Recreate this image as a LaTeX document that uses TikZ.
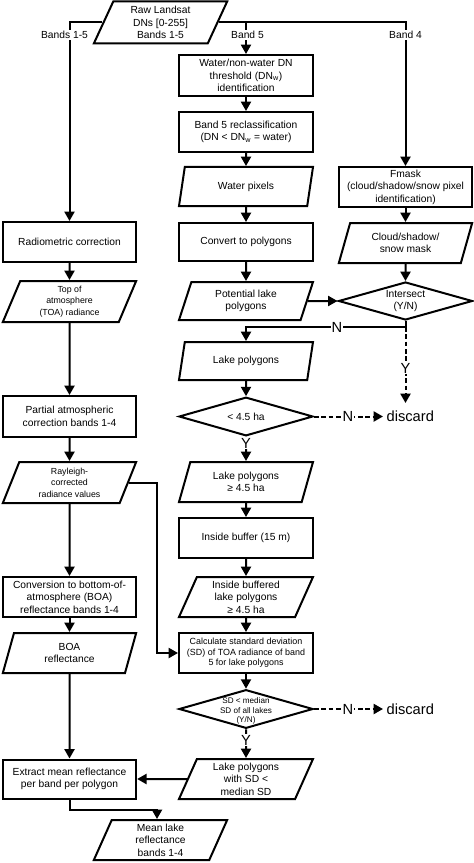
\documentclass[tikz,border=0pt]{standalone}
\usepackage{fontspec}
\setmainfont{Liberation Sans}
\usetikzlibrary{shapes.geometric,arrows.meta,calc}
\newcommand{\fmain}{\fontsize{7.7pt}{9.3pt}\selectfont}
\newcommand{\fsmall}{\fontsize{6.6pt}{8.7pt}\selectfont}
\newcommand{\fsd}{\fontsize{6.7pt}{7.9pt}\selectfont}
\newcommand{\ftiny}{\fontsize{6.1pt}{7.2pt}\selectfont}
\newcommand{\fbig}{\fontsize{11pt}{12pt}\selectfont}
\begin{document}
\begin{tikzpicture}[x=0.75pt,y=-0.75pt,
  line width=1.5pt,
  arr/.style={-{Triangle[length=7pt,width=7.5pt]}},
  rbox/.style={draw, rectangle, minimum width=100pt, minimum height=30pt, inner sep=1pt, align=center, font=\fmain},
  pbox/.style={draw, trapezium, trapezium left angle=62, trapezium right angle=118, trapezium stretches body,
    minimum width=100pt, minimum height=30pt, inner sep=0.5pt, align=center, font=\fmain},
  dbox/.style={draw, diamond, minimum width=100.5pt, minimum height=29pt, inner sep=0pt},
  lbl/.style={fill=white, inner sep=1pt, font=\fmain},
  big/.style={fill=white, inner sep=0.5pt, font=\fbig},
  dsh/.style={dash pattern=on 3.5pt off 2pt}
]
\useasboundingbox (0,0) rectangle (474,863);

% top
\node[pbox, minimum width=100pt, minimum height=31.5pt, trapezium left angle=60, trapezium right angle=120] (raw) at (160.5,22.5) {Raw Landsat\\DNs [0-255]\\Bands 1-5};

% middle column
\node[rbox, minimum width=100.5pt, minimum height=30.75pt] (thr) at (246,75.5) {Water/non-water DN\\threshold (DN\textsubscript{w})\\identification};
\node[rbox, minimum width=100.5pt] (rec) at (246,132) {Band 5 reclassification\\(DN < DN\textsubscript{w} = water)};
\node[pbox, minimum width=100.5pt, minimum height=29.25pt] (wat) at (246,186.5) {Water pixels};
\node[rbox, minimum width=100.5pt, minimum height=28.5pt] (conv) at (246,242) {Convert to polygons};
\node[pbox, minimum width=100.5pt, minimum height=28.5pt] (pot) at (246,301) {Potential lake\\polygons};
\node[pbox, minimum width=100.5pt, minimum height=28.5pt] (lake) at (246,361) {Lake polygons};
\node[dbox] (d45) at (246,416.5) {};
\node[font=\fmain] (t45) at (d45) {< 4.5 ha};
\node[pbox, minimum width=100.5pt] (lk45) at (246,482) {Lake polygons\\≥ 4.5 ha};
\node[rbox, minimum width=100.5pt] (buf) at (246,538) {Inside buffer (15 m)};
\node[pbox, minimum width=100.5pt] (ibuf) at (246,597) {Inside buffered\\lake polygons\\≥ 4.5 ha};
\node[rbox, minimum width=100.5pt, font=\fsd] (sd) at (246,653) {Calculate standard deviation\\(SD) of TOA radiance of band\\5 for lake polygons};
\node[dbox] (dsd) at (246,709) {};
\node[font=\ftiny, align=center] (tsd) at (246,711) {SD < median\\SD of all lakes\\(Y/N)};
\node[pbox, minimum width=100.5pt] (lsd) at (246,779) {Lake polygons\\with SD <\\median SD};

% left column
\node[rbox, minimum width=100pt] (rad) at (69.5,242) {Radiometric correction};
\node[pbox, minimum height=30.75pt, font=\fsmall] (toa) at (69.5,301.5) {Top of\\atmosphere\\(TOA) radiance};
\node[rbox, minimum height=30.75pt] (pac) at (69.5,416.5) {Partial atmospheric\\correction bands 1-4};
\node[pbox, minimum height=30.75pt, font=\fsmall] (ray) at (69.5,482.5) {Rayleigh-\\corrected\\radiance values};
\node[rbox] (boa) at (69.5,597) {Conversion to bottom-of-\\atmosphere (BOA)\\reflectance bands 1-4};
\node[pbox] (boar) at (69.5,653) {BOA\\reflectance};
\node[rbox, minimum height=29.25pt] (ext) at (69.5,779) {Extract mean reflectance\\per band per polygon};
\node[pbox] (mean) at (160.5,840) {Mean lake\\reflectance\\bands 1-4};

% right column
\node[rbox] (fm) at (405.5,187) {Fmask\\(cloud/shadow/snow pixel\\identification)};
\node[pbox] (csm) at (405.5,243) {Cloud/shadow/\\snow mask};
\node[dbox, minimum height=28.5pt] (int) at (405.5,301) {};
\node[font=\fmain, align=center] (tint) at (int) {Intersect\\(Y/N)};
\node[font=\fbig, anchor=west, inner sep=2pt] (dis1) at (383,416.5) {discard};
\node[font=\fbig, anchor=west, inner sep=2pt] (dis2) at (383,709) {discard};

\coordinate (nb) at (405.5,327);
\coordinate (yend) at (405.5,403);
\coordinate (rb) at (157,0);
\coordinate (mb) at (157,810);

% connectors from the top
\draw[arr] (raw.west) -| (rad.north);
\draw[arr] (raw.east) -| (fm.north);
\draw[arr] (thr.north |- raw.east) -- (thr.north);
\node[lbl] (lb15) at (64.5,35) {Bands 1-5};
\node[lbl] (lb5) at (247.5,35) {Band 5};
\node[lbl] (lb4) at (405.5,35) {Band 4};

% left column
\foreach \a/\b in {rad/toa,toa/pac,pac/ray,ray/boa,boa/boar,boar/ext}
  \draw[arr] (\a) -- (\b);
\draw[arr] (ray.east) -- (ray.east -| rb) |- (sd.west);
\draw[arr] (ext.south) |- (mb) -- (mb |- mean.north);

% middle column
\foreach \a/\b in {thr/rec,rec/wat,wat/conv,conv/pot,lake/d45,d45/lk45,lk45/buf,buf/ibuf,ibuf/sd,sd/dsd,dsd/lsd}
  \draw[arr] (\a) -- (\b);
\draw[arr] (lsd) -- (ext);
\node[big] (y1) at (246,443) {Y};
\node[big] (y2) at (246,740) {Y};

% right column
\draw[arr] (fm) -- (csm);
\draw[arr] (csm) -- (int);
\draw[arr] (pot) -- (int);
\draw (int.south) -- (nb);
\draw[arr] (nb) -| (lake.north);
\node[big] (n1) at (337,327) {N};
\draw[arr, dsh] (nb) -- (yend);
\node[big] (y0) at (405.5,368) {Y};
\draw[arr, dsh] (d45.east) -- (dis1.west);
\node[big] (n2) at (348,416.5) {N};
\draw[arr, dsh] (dsd.east) -- (dis2.west);
\node[big] (n3) at (348,709) {N};
\end{tikzpicture}
\end{document}
